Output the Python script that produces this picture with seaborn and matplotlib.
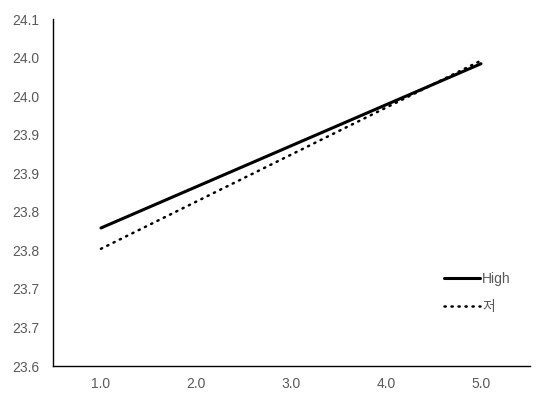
import numpy as np
import pandas as pd
import matplotlib
matplotlib.use("Agg")
import matplotlib.pyplot as plt
import seaborn as sns
import decimal
from matplotlib.lines import Line2D

x_vals = [1.0, 5.0]
high_vals = [23.779, 23.992]
low_vals = [23.752, 23.996]
series_names = ["High", "저"]
x_ticks = [1.0, 2.0, 3.0, 4.0, 5.0]
y_ticks = [23.60, 23.65, 23.70, 23.75, 23.80, 23.85, 23.90, 23.95, 24.00, 24.05]

df = pd.DataFrame({
    "x": x_vals + x_vals,
    "y": high_vals + low_vals,
    "series": [series_names[0]] * len(x_vals) + [series_names[1]] * len(x_vals),
})

sns.set_style("white")
plt.rcParams['font.family'] = ['Liberation Sans', 'Noto Sans CJK KR', 'DejaVu Sans']

fig = plt.figure(figsize=(5.47, 4.0), dpi=100)
ax = fig.add_axes([53/547, 34/400, (530-53)/547, (366-19)/400])

DOT = (0.5, 2.3)
sns.lineplot(data=df, x="x", y="y", hue="series", style="series",
             palette={series_names[0]: "black", series_names[1]: "black"},
             dashes={series_names[0]: "", series_names[1]: DOT},
             linewidth=2.2, ax=ax, legend=False)

lines = ax.get_lines()
lines[1].set_linewidth(1.8)
lines[1].set_dash_capstyle("round")

ax.set_xlim(0.495, 5.516)
ax.set_ylim(23.60, 24.05)
ax.set_xticks(x_ticks)
ax.set_xticklabels([f"{v:.1f}" for v in x_ticks])
ax.set_yticks(y_ticks)
def fmt(v):
    return str(decimal.Decimal(str(round(v, 2))).quantize(decimal.Decimal("0.1"), rounding=decimal.ROUND_HALF_UP))
ax.set_yticklabels([fmt(v) for v in y_ticks])
ax.tick_params(axis="both", length=0, labelsize=10, labelcolor="#595959", pad=8)
ax.tick_params(axis="y", pad=10)
ax.set_xlabel("")
ax.set_ylabel("")
for s in ["top", "right"]:
    ax.spines[s].set_visible(False)
for s in ["left", "bottom"]:
    ax.spines[s].set_color("black")
    ax.spines[s].set_linewidth(1.0)

handles = [Line2D([], [], color="black", lw=2.2),
           Line2D([], [], color="black", lw=1.8, dashes=DOT, dash_capstyle="round")]
leg = ax.legend(handles, series_names, loc="upper left", bbox_to_anchor=(0.793, 0.306),
                frameon=False, fontsize=10, handlelength=2.6, handletextpad=0.15,
                labelspacing=0.95)
for t in leg.get_texts():
    t.set_color("#595959")

fig.savefig("out.png", dpi=100)
